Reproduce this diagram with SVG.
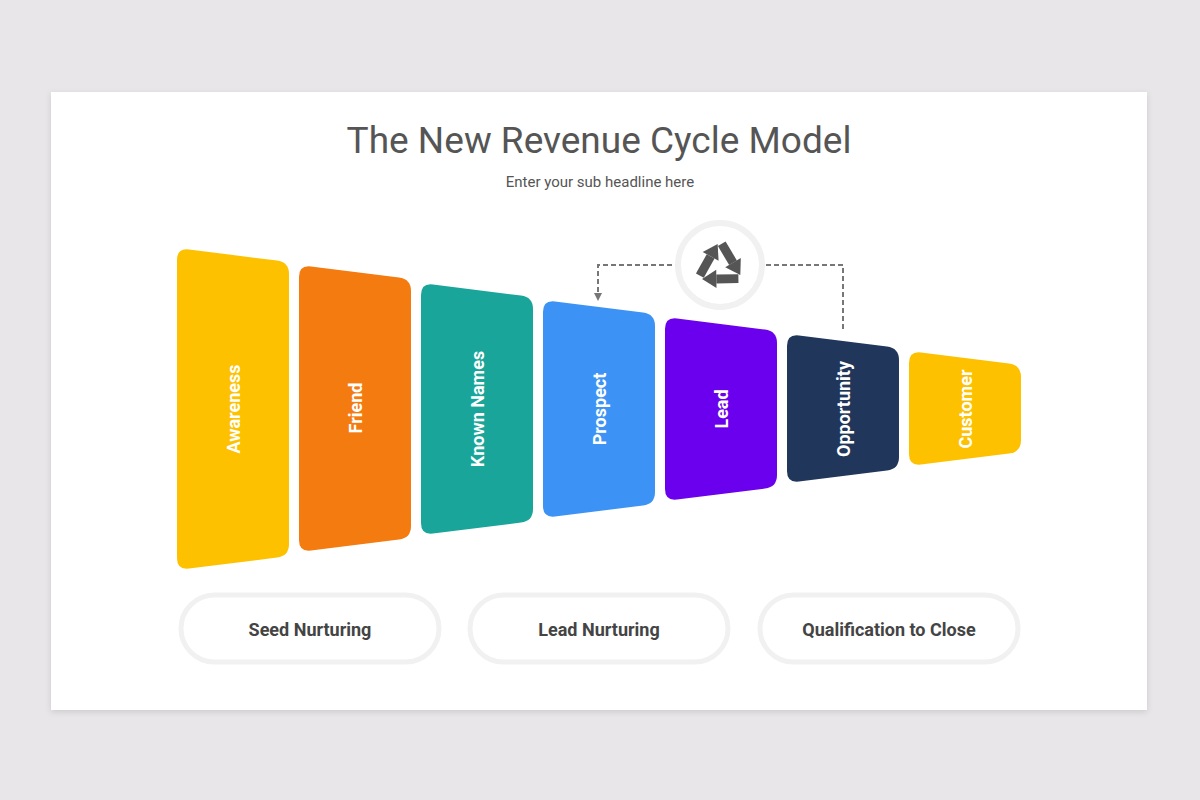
<svg xmlns="http://www.w3.org/2000/svg" width="1200" height="800" viewBox="0 0 1200 800">
<defs>
<filter id="sh" x="-5%" y="-5%" width="110%" height="110%"><feDropShadow dx="0" dy="2" stdDeviation="3" flood-color="#000" flood-opacity="0.12"/></filter>
<marker id="ar" viewBox="0 0 10 10" refX="5" refY="5" markerWidth="4" markerHeight="4" orient="auto"><path d="M0,0 L10,5 L0,10 Z" fill="#777"/></marker>
<g id="arm"><path d="M-18.5,5.7 L-10.2,-9.1 L-4.2,-5.7 L-12.5,9.1 Z"/><path d="M-13.3,-10.8 L-1.1,-4 L-1.8,-17 Z"/></g>
</defs>
<style>
.lbl{font-family:Roboto,"Liberation Sans",sans-serif;font-weight:bold;font-size:18px;fill:#fff;text-anchor:middle;dominant-baseline:central}
.pill{fill:#fff;stroke:#f1f1f1;stroke-width:5}
.pt{font-family:Roboto,"Liberation Sans",sans-serif;font-weight:bold;font-size:18px;fill:#444;text-anchor:middle;dominant-baseline:central}
.dash{fill:none;stroke:#777;stroke-width:2;stroke-dasharray:5,3}
</style>
<rect width="1200" height="800" fill="#e8e6e8"/>
<rect x="51" y="92" width="1096" height="618" fill="#fff" filter="url(#sh)"/>
<text x="599" y="153" font-family="Roboto,'Liberation Sans',sans-serif" font-size="37" fill="#555" text-anchor="middle">The New Revenue Cycle Model</text>
<text x="600" y="187" font-family="Roboto,'Liberation Sans',sans-serif" font-size="15" fill="#555" text-anchor="middle">Enter your sub headline here</text>
<g id="connectors">
<path class="dash" d="M680,265 H598 V297" marker-end="url(#ar)"/>
<path class="dash" d="M766,265 H843 V330"/>
</g>
<g id="cycle">
<circle cx="720" cy="265" r="42" fill="#fff" stroke="#f1f1f1" stroke-width="6"/>
<g fill="#555" transform="translate(720,266) scale(1.3)"><use href="#arm"/><use href="#arm" transform="rotate(120)"/><use href="#arm" transform="rotate(240)"/></g>
</g>
<g id="awareness"><path fill="#FDC100" d="M177,260 Q177,248 189,249.5 L277,260.5 Q289,262 289,274 L289,544 Q289,556 277,557.5 L189,568.5 Q177,570 177,558 Z"/><text class="lbl" transform="translate(233,409) rotate(-90)">Awareness</text></g>
<g id="friend"><path fill="#F47B10" d="M299,277 Q299,265 311,266.5 L399,277.5 Q411,279 411,291 L411,526 Q411,538 399,539.5 L311,550.5 Q299,552 299,540 Z"/><text class="lbl" transform="translate(355,408) rotate(-90)">Friend</text></g>
<g id="known"><path fill="#1AA59A" d="M421,295 Q421,283 433,284.5 L521,295.5 Q533,297 533,309 L533,509 Q533,521 521,522.5 L433,533.5 Q421,535 421,523 Z"/><text class="lbl" transform="translate(477,409) rotate(-90)">Known Names</text></g>
<g id="prospect"><path fill="#3C93F5" d="M543,312 Q543,300 555,301.5 L643,312.5 Q655,314 655,326 L655,492 Q655,504 643,505.5 L555,516.5 Q543,518 543,506 Z"/><text class="lbl" transform="translate(599,409) rotate(-90)">Prospect</text></g>
<g id="lead"><path fill="#6B00EE" d="M665,329 Q665,317 677,318.5 L765,329.5 Q777,331 777,343 L777,475 Q777,487 765,488.5 L677,499.5 Q665,501 665,489 Z"/><text class="lbl" transform="translate(721,409) rotate(-90)">Lead</text></g>
<g id="opportunity"><path fill="#20365A" d="M787,346 Q787,334 799,335.5 L887,346.5 Q899,348 899,360 L899,457 Q899,469 887,470.5 L799,481.5 Q787,483 787,471 Z"/><text class="lbl" transform="translate(843,409) rotate(-90)">Opportunity</text></g>
<g id="customer"><path fill="#FDC100" d="M909,363 Q909,351 921,352.5 L1009,363.5 Q1021,365 1021,377 L1021,440 Q1021,452 1009,453.5 L921,464.5 Q909,466 909,454 Z"/><text class="lbl" transform="translate(965,409) rotate(-90)">Customer</text></g>
<g id="seed"><rect class="pill" x="181" y="595" width="258" height="67" rx="33.5"/><text class="pt" x="310" y="629">Seed Nurturing</text></g>
<g id="leadn"><rect class="pill" x="470" y="595" width="258" height="67" rx="33.5"/><text class="pt" x="599" y="629">Lead Nurturing</text></g>
<g id="qual"><rect class="pill" x="760" y="595" width="258" height="67" rx="33.5"/><text class="pt" x="889" y="629">Qualification to Close</text></g>
</svg>
